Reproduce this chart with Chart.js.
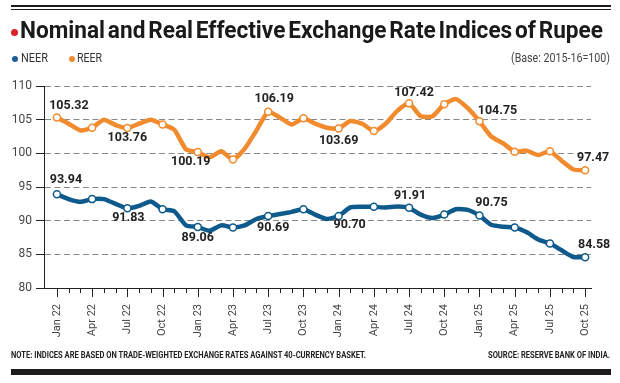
<!DOCTYPE html>
<html>
<head>
<meta charset="utf-8">
<script src="https://cdn.jsdelivr.net/npm/chart.js@4.4.1/dist/chart.umd.min.js"></script>
<style>
  html, body { margin: 0; padding: 0; background: #fff; }
  #wrap { position: relative; width: 620px; height: 383px; overflow: hidden; font-family: Roboto, "Liberation Sans", sans-serif; }
  #chart { position: absolute; left: 0; top: 0; }
  .t { position: absolute; white-space: nowrap; line-height: 1; transform-origin: 0 0; }
  .rule { position: absolute; left: 11px; width: 600px; background: #1c1c1c; }
  .dot { position: absolute; border-radius: 50%; }
</style>
</head>
<body>
<div id="wrap">
  <canvas id="chart" width="620" height="383"></canvas>

  <div class="rule" style="top:5px;height:2px"></div>
  <div class="rule" style="top:9px;height:1px"></div>

  <div class="dot" style="left:11px;top:28.5px;width:7px;height:7px;background:#d9232a"></div>
  <div class="t" data-w="583" style="left:20px;top:17.5px;font-size:24px;font-weight:700;color:#1a1a1a;word-spacing:-3px">Nominal and Real Effective Exchange Rate Indices of Rupee</div>

  <div class="dot" style="left:12px;top:55.5px;width:6px;height:6px;background:#1b5e96"></div>
  <div class="t" data-w="27" style="left:21px;top:52px;font-size:12.5px;color:#333">NEER</div>
  <div class="dot" style="left:69px;top:55.5px;width:6px;height:6px;background:#f28a30"></div>
  <div class="t" data-w="25" style="left:77px;top:52px;font-size:12.5px;color:#333">REER</div>
  <div class="t" data-w="99" style="left:511px;top:52px;font-size:12.5px;color:#444">(Base: 2015-16=100)</div>

  <div class="t" data-w="355" style="left:11px;top:350.3px;font-size:9.5px;font-weight:700;color:#222">NOTE: INDICES ARE BASED ON TRADE-WEIGHTED EXCHANGE RATES AGAINST 40-CURRENCY BASKET.</div>
  <div class="t" data-w="122" style="left:488px;top:350.3px;font-size:9.5px;font-weight:700;color:#222">SOURCE: RESERVE BANK OF INDIA.</div>

  <div class="rule" style="top:369px;height:6px"></div>
</div>

<script>
// months, Jan 22 .. Oct 25
const months = [
  'Jan 22','Feb 22','Mar 22','Apr 22','May 22','Jun 22','Jul 22','Aug 22','Sep 22','Oct 22','Nov 22','Dec 22',
  'Jan 23','Feb 23','Mar 23','Apr 23','May 23','Jun 23','Jul 23','Aug 23','Sep 23','Oct 23','Nov 23','Dec 23',
  'Jan 24','Feb 24','Mar 24','Apr 24','May 24','Jun 24','Jul 24','Aug 24','Sep 24','Oct 24','Nov 24','Dec 24',
  'Jan 25','Feb 25','Mar 25','Apr 25','May 25','Jun 25','Jul 25','Aug 25','Sep 25','Oct 25'
];

const neer = [
  93.94, 93.2, 92.8, 93.2, 93.2, 92.5, 91.83, 92.2, 92.85, 91.7, 91.4, 89.3,
  89.06, 88.5, 89.3, 89.0, 89.3, 90.25, 90.69, 90.98, 91.3, 91.7, 90.9, 90.25,
  90.70, 91.96, 92.05, 92.05, 91.96, 92.1, 91.91, 90.9, 90.4, 90.9, 91.7, 91.6,
  90.75, 89.4, 89.1, 89.0, 88.3, 87.2, 86.6, 85.6, 84.6, 84.58
];

const reer = [
  105.32, 104.4, 103.4, 103.8, 105.0, 104.2, 103.76, 104.4, 105.0, 104.3, 103.5, 100.6,
  100.19, 99.4, 100.3, 99.07, 100.7, 103.4, 106.19, 105.3, 104.3, 105.2, 104.4, 103.8,
  103.69, 104.8, 104.4, 103.3, 104.4, 106.3, 107.42, 105.5, 105.5, 107.3, 108.05, 106.7,
  104.75, 102.5, 101.5, 100.25, 100.4, 99.75, 100.3, 98.9, 97.6, 97.47
];

const yTicks = [80, 85, 90, 95, 100, 105, 110];

// which points carry a value label, and where the label sits (px offset from point)
const labelIdx = [0, 6, 12, 18, 24, 30, 36, 45];
const neerLabelPos = [[9,-14],[1,10],[0,11],[5,12],[11,9],[1,-12],[12,-13],[9,-12]];
const reerLabelPos = [[12,-12],[0,10],[-7,10],[6,-13],[0,12],[5,-10],[18,-10],[8,-12]];

const BLUE = '#0e5a8c';
const ORANGE = '#f28a2e';

// stretch html texts to the measured widths
document.querySelectorAll('[data-w]').forEach(el => {
  const w = el.getBoundingClientRect().width;
  el.style.transform = 'scaleX(' + (el.dataset.w / w) + ')';
});

const valueLabels = {
  id: 'valueLabels',
  afterDatasetsDraw(chart) {
    const ctx = chart.ctx;
    ctx.save();
    ctx.font = 'bold 12.5px Roboto, sans-serif';
    ctx.fillStyle = '#222';
    ctx.textAlign = 'center';
    ctx.textBaseline = 'middle';
    [[0, neerLabelPos], [1, reerLabelPos]].forEach(([di, pos]) => {
      const meta = chart.getDatasetMeta(di);
      const vals = chart.data.datasets[di].data;
      labelIdx.forEach((idx, k) => {
        const pt = meta.data[idx];
        ctx.fillText(vals[idx].y.toFixed(2), pt.x + pos[k][0], pt.y + pos[k][1]);
      });
    });
    ctx.restore();
  }
};

// month tick marks under the x axis, longer on quarters
const monthTicks = {
  id: 'monthTicks',
  afterDraw(chart) {
    const ctx = chart.ctx;
    const xs = chart.scales.x;
    const bottom = chart.chartArea.bottom;
    ctx.save();
    ctx.strokeStyle = '#222';
    ctx.lineWidth = 1;
    months.forEach((m, i) => {
      const x = Math.round(xs.getPixelForValue(i)) + 0.5;
      ctx.beginPath();
      ctx.moveTo(x, bottom);
      ctx.lineTo(x, bottom + (i % 3 === 0 ? 9 : 5));
      ctx.stroke();
    });
    ctx.restore();
  }
};

const pointStyle = {
  pointRadius: c => (c.dataIndex % 3 === 0 ? 3.5 : 0),
  pointBackgroundColor: '#fff',
  pointBorderWidth: 1.5,
  borderWidth: 4.5,
  tension: 0.2,
  borderJoinStyle: 'round',
  borderCapStyle: 'round',
  fill: false
};

new Chart(document.getElementById('chart'), {
  type: 'line',
  data: {
    datasets: [
      Object.assign({
        label: 'NEER',
        data: neer.map((v, i) => ({ x: i, y: v })),
        borderColor: BLUE,
        pointBorderColor: BLUE
      }, pointStyle),
      Object.assign({
        label: 'REER',
        data: reer.map((v, i) => ({ x: i, y: v })),
        borderColor: ORANGE,
        pointBorderColor: ORANGE
      }, pointStyle)
    ]
  },
  options: {
    responsive: false,
    animation: false,
    events: [],
    layout: { padding: { top: 86, right: 29, bottom: 45, left: 0 } },
    plugins: { legend: { display: false }, tooltip: { enabled: false } },
    scales: {
      x: {
        type: 'linear',
        min: -1.1,
        max: 45.5,
        afterFit: s => { s.height = 50; },
        grid: { display: true, drawOnChartArea: false, color: 'rgba(0,0,0,0)', tickLength: 8 },
        border: { display: true, color: '#222', width: 1 },
        ticks: {
          stepSize: 1,
          maxTicksLimit: 100,
          autoSkip: false,
          includeBounds: false,
          maxRotation: 90,
          minRotation: 90,
          padding: 8,
          color: '#444',
          font: { family: 'Roboto', size: 11 },
          callback: v => (Number.isInteger(v) && v >= 0 && v % 3 === 0 ? months[v] : '')
        }
      },
      y: {
        min: 80,
        max: 110,
        afterFit: s => { s.width = 44; },
        afterBuildTicks: s => { s.ticks = yTicks.map(v => ({ value: v })); },
        grid: { color: '#888', lineWidth: 1, tickLength: 8, tickColor: '#222' },
        border: { display: true, color: '#222', width: 1, dash: [6, 3.5] },
        ticks: { padding: 4, color: '#444', font: { family: 'Roboto', size: 12 } }
      }
    }
  },
  plugins: [valueLabels, monthTicks]
});
</script>
</body>
</html>
